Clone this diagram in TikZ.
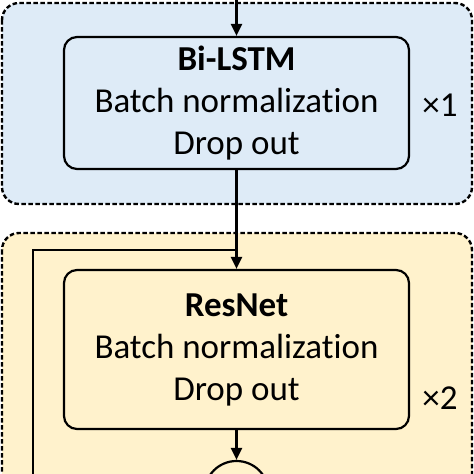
\documentclass[tikz,border=0pt]{standalone}
\usepackage{fontspec}
\setmainfont[Ligatures=NoCommon]{Carlito}
\usetikzlibrary{arrows.meta}
\definecolor{lstmblue}{RGB}{222,235,247}
\definecolor{resyellow}{RGB}{255,242,204}
\begin{document}
\begin{tikzpicture}[x=1pt,y=-1pt,line width=2.2pt]
    \tikzstyle{marrs}=[-{Triangle[length=12pt,width=11pt]}]
    \tikzstyle{group}=[dash pattern=on 4.5pt off 2.5pt, line width=2.4pt, rounded corners=17pt]
    \tikzstyle{layer}=[draw, rounded corners=13pt, minimum width=345pt, align=center,
        font=\fontsize{35}{42}\selectfont]
    \tikzstyle{rep}=[font=\fontsize{35}{42}\selectfont]

    \useasboundingbox (0,0) rectangle (474,474);

    % groups
    \draw[group, fill=lstmblue] (2,3) rectangle (472,204);
    \draw[group, fill=resyellow] (2,233) rectangle (472,520);

    % layers
    \node[layer, fill=lstmblue, minimum height=132pt] (lstm) at (236.5,103)
        {\textbf{Bi-LSTM}\\Batch normalization\\Drop out};
    \node[layer, fill=resyellow, minimum height=159pt] (resnet) at (236.5,349.5)
        {\textbf{ResNet}\\Batch normalization\\Drop out};
    \node[draw, circle, minimum size=64pt, font=\fontsize{35}{42}\selectfont] (add) at (236.5,493) {+};

    \node[rep] (rep1) at (440,105) {×1};
    \node[rep] (rep2) at (440,398) {×2};

    \coordinate (in) at (236.5,-5);
    \coordinate (split) at (236.5,250);
    \coordinate (skip) at (33,250);
    \coordinate (skipend) at (33,520);

    % connectors
    \draw[marrs] (in) -- (lstm.north);
    \draw (lstm.south) -- (split);
    \draw[marrs] (split) -- (resnet.north);
    \draw (split) -- (skip) -- (skipend);
    \draw[marrs] (resnet.south) -- (add.north);
\end{tikzpicture}
\end{document}
